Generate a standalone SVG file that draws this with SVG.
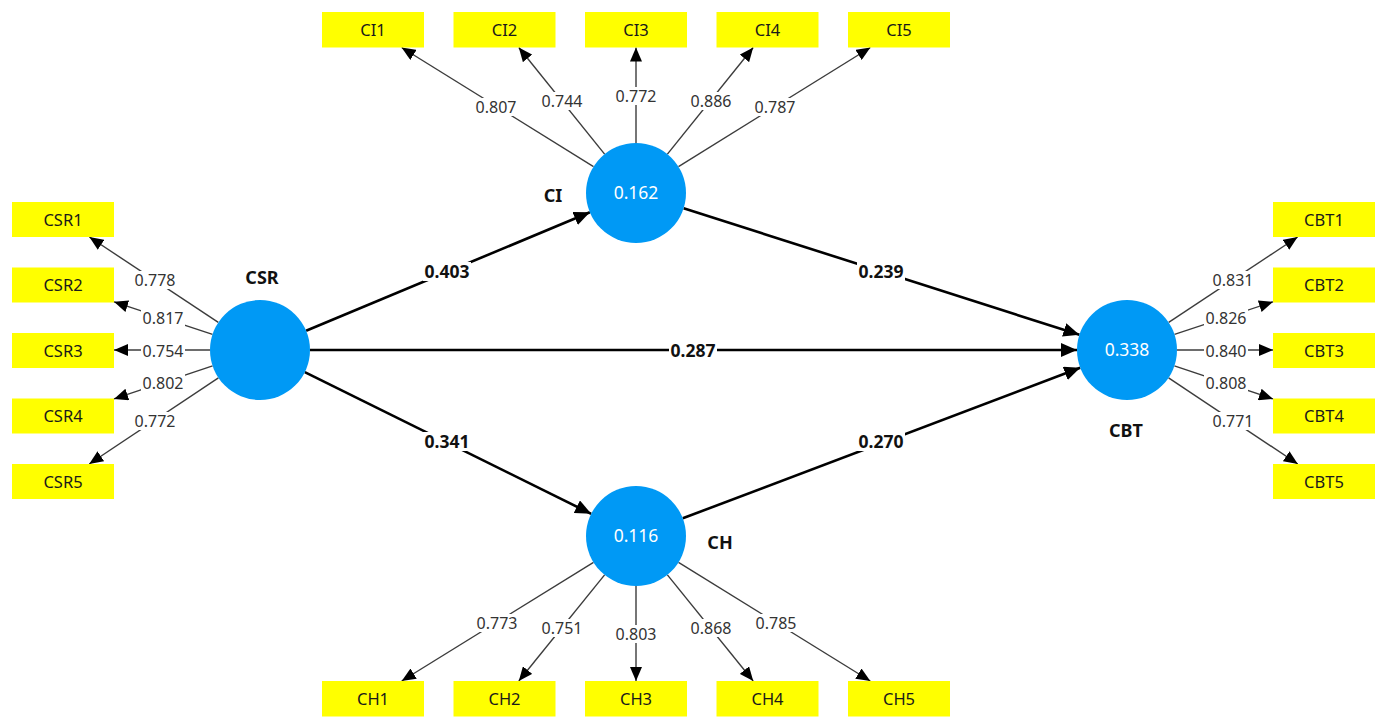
<svg xmlns="http://www.w3.org/2000/svg" width="1385" height="727" viewBox="0 0 1385 727">
<defs>
<style>
.box{fill:#ffff00}
.lv{fill:#0099f5}
.ind{font-family:"Noto Sans","Open Sans",sans-serif;font-size:16.5px;fill:#1a1a1a;text-anchor:middle}
.lt{font-family:"Noto Sans","Open Sans",sans-serif;font-size:16px;fill:#333333;text-anchor:middle}
.pt{font-family:"Noto Sans","Open Sans",sans-serif;font-size:17.5px;font-weight:bold;fill:#111;text-anchor:middle}
.nm{font-family:"Noto Sans","Open Sans",sans-serif;font-size:18px;font-weight:bold;fill:#111;text-anchor:middle}
.r2{font-family:"Noto Sans","Open Sans",sans-serif;font-size:17.5px;fill:#ffffff;text-anchor:middle}
.ld{stroke:#3c3c3c;stroke-width:1.4;fill:none;marker-end:url(#ah)}
.st{stroke:#000;stroke-width:2.6;fill:none;marker-end:url(#ahb)}
.bg{fill:#ffffff}
</style>
<marker id="ah" markerUnits="userSpaceOnUse" markerWidth="14" markerHeight="12" refX="14" refY="6" orient="auto">
<path d="M0,0 L14,6 L0,12 Z" fill="#000"/>
</marker>
<marker id="ahb" markerUnits="userSpaceOnUse" markerWidth="16" markerHeight="14" refX="16" refY="7" orient="auto">
<path d="M0,0 L16,7 L0,14 Z" fill="#000"/>
</marker>
</defs>
<rect width="1385" height="727" fill="#ffffff"/>

<g id="connectors">
<line class="ld" x1="218.3" y1="322.4" x2="89.4" y2="237"/>
<line class="ld" x1="212.5" y1="334.3" x2="114" y2="301.8"/>
<line class="ld" x1="210" y1="350" x2="114" y2="350"/>
<line class="ld" x1="212.6" y1="365.9" x2="114" y2="398.9"/>
<line class="ld" x1="218.4" y1="377.8" x2="89.2" y2="464"/>
<line class="ld" x1="1168.7" y1="322.4" x2="1297.6" y2="237"/>
<line class="ld" x1="1174.5" y1="334.3" x2="1273" y2="301.8"/>
<line class="ld" x1="1177" y1="350" x2="1273" y2="350"/>
<line class="ld" x1="1174.4" y1="365.9" x2="1273" y2="398.9"/>
<line class="ld" x1="1168.6" y1="377.8" x2="1297.8" y2="464"/>
<line class="ld" x1="593.5" y1="166.6" x2="401.6" y2="47.5"/>
<line class="ld" x1="604.6" y1="154.1" x2="518.8" y2="47.5"/>
<line class="ld" x1="636" y1="143" x2="636" y2="47.5"/>
<line class="ld" x1="667.4" y1="154.1" x2="753.2" y2="47.5"/>
<line class="ld" x1="678.5" y1="166.6" x2="870.4" y2="47.5"/>
<line class="ld" x1="593.5" y1="562.3" x2="401.7" y2="681"/>
<line class="ld" x1="604.6" y1="574.9" x2="518.8" y2="681"/>
<line class="ld" x1="636" y1="586" x2="636" y2="681"/>
<line class="ld" x1="667.4" y1="574.9" x2="753.2" y2="681"/>
<line class="ld" x1="678.5" y1="562.3" x2="870.3" y2="681"/>
<line class="st" x1="306.1" y1="330.7" x2="589.9" y2="212.3"/>
<line class="st" x1="683.6" y1="208.2" x2="1079.4" y2="334.8"/>
<line class="st" x1="310" y1="350" x2="1077" y2="350"/>
<line class="st" x1="304.8" y1="372.2" x2="591.2" y2="513.8"/>
<line class="st" x1="682.8" y1="518.3" x2="1080.2" y2="367.7"/>

<rect class="bg" x="133" y="271" width="44" height="18"/><text class="lt" x="155" y="286">0.778</text>
<rect class="bg" x="141" y="309" width="44" height="18"/><text class="lt" x="163" y="324">0.817</text>
<rect class="bg" x="141" y="341" width="44" height="18"/><text class="lt" x="163" y="356.5">0.754</text>
<rect class="bg" x="141" y="374" width="44" height="18"/><text class="lt" x="163" y="389">0.802</text>
<rect class="bg" x="133" y="412" width="44" height="18"/><text class="lt" x="155" y="427">0.772</text>

<rect class="bg" x="1211" y="271" width="44" height="18"/><text class="lt" x="1233" y="286">0.831</text>
<rect class="bg" x="1204" y="309" width="44" height="18"/><text class="lt" x="1226" y="324">0.826</text>
<rect class="bg" x="1204" y="341" width="44" height="18"/><text class="lt" x="1226" y="356.5">0.840</text>
<rect class="bg" x="1204" y="374" width="44" height="18"/><text class="lt" x="1226" y="389">0.808</text>
<rect class="bg" x="1211" y="412" width="44" height="18"/><text class="lt" x="1233" y="427">0.771</text>

<rect class="bg" x="474" y="98" width="44" height="18"/><text class="lt" x="496" y="113">0.807</text>
<rect class="bg" x="540" y="92" width="44" height="18"/><text class="lt" x="562" y="107">0.744</text>
<rect class="bg" x="614" y="87" width="44" height="18"/><text class="lt" x="636" y="102">0.772</text>
<rect class="bg" x="689" y="92" width="44" height="18"/><text class="lt" x="711" y="107">0.886</text>
<rect class="bg" x="753" y="98" width="44" height="18"/><text class="lt" x="775" y="113">0.787</text>

<rect class="bg" x="475" y="614" width="44" height="18"/><text class="lt" x="497" y="629">0.773</text>
<rect class="bg" x="540" y="619" width="44" height="18"/><text class="lt" x="562" y="634">0.751</text>
<rect class="bg" x="614" y="625" width="44" height="18"/><text class="lt" x="636" y="640">0.803</text>
<rect class="bg" x="689" y="619" width="44" height="18"/><text class="lt" x="711" y="634">0.868</text>
<rect class="bg" x="754" y="614" width="44" height="18"/><text class="lt" x="776" y="629">0.785</text>

<rect class="bg" x="423" y="262" width="48" height="19"/><text class="pt" x="447" y="278">0.403</text>
<rect class="bg" x="857" y="262" width="48" height="19"/><text class="pt" x="881" y="278">0.239</text>
<rect class="bg" x="669" y="341" width="48" height="19"/><text class="pt" x="693" y="357">0.287</text>
<rect class="bg" x="423" y="432" width="48" height="19"/><text class="pt" x="447" y="448">0.341</text>
<rect class="bg" x="857" y="432" width="48" height="19"/><text class="pt" x="881" y="448">0.270</text>
</g>

<g id="CSR">
<circle class="lv" cx="260" cy="350" r="50"/>
<text class="nm" x="262" y="283.5">CSR</text>
</g>
<g id="CI">
<circle class="lv" cx="636" cy="193" r="50"/>
<text class="r2" x="636" y="199">0.162</text>
<text class="nm" x="553" y="201.5">CI</text>
</g>
<g id="CH">
<circle class="lv" cx="636" cy="536" r="50"/>
<text class="r2" x="636" y="542">0.116</text>
<text class="nm" x="720" y="548.5">CH</text>
</g>
<g id="CBT">
<circle class="lv" cx="1127" cy="350" r="50"/>
<text class="r2" x="1127" y="356">0.338</text>
<text class="nm" x="1126" y="436.5">CBT</text>
</g>

<g id="CSR1"><rect class="box" x="12" y="202" width="102" height="35"/><text class="ind" x="63" y="225.5">CSR1</text></g>
<g id="CSR2"><rect class="box" x="12" y="267.5" width="102" height="35"/><text class="ind" x="63" y="291">CSR2</text></g>
<g id="CSR3"><rect class="box" x="12" y="333" width="102" height="35"/><text class="ind" x="63" y="356.5">CSR3</text></g>
<g id="CSR4"><rect class="box" x="12" y="398.5" width="102" height="35"/><text class="ind" x="63" y="422">CSR4</text></g>
<g id="CSR5"><rect class="box" x="12" y="464" width="102" height="35"/><text class="ind" x="63" y="487.5">CSR5</text></g>

<g id="CBT1"><rect class="box" x="1273" y="202" width="102" height="35"/><text class="ind" x="1324" y="225.5">CBT1</text></g>
<g id="CBT2"><rect class="box" x="1273" y="267.5" width="102" height="35"/><text class="ind" x="1324" y="291">CBT2</text></g>
<g id="CBT3"><rect class="box" x="1273" y="333" width="102" height="35"/><text class="ind" x="1324" y="356.5">CBT3</text></g>
<g id="CBT4"><rect class="box" x="1273" y="398.5" width="102" height="35"/><text class="ind" x="1324" y="422">CBT4</text></g>
<g id="CBT5"><rect class="box" x="1273" y="464" width="102" height="35"/><text class="ind" x="1324" y="487.5">CBT5</text></g>

<g id="CI1"><rect class="box" x="322" y="12" width="102" height="35.5"/><text class="ind" x="373" y="35.5">CI1</text></g>
<g id="CI2"><rect class="box" x="453.5" y="12" width="102" height="35.5"/><text class="ind" x="504.5" y="35.5">CI2</text></g>
<g id="CI3"><rect class="box" x="585" y="12" width="102" height="35.5"/><text class="ind" x="636" y="35.5">CI3</text></g>
<g id="CI4"><rect class="box" x="716.5" y="12" width="102" height="35.5"/><text class="ind" x="767.5" y="35.5">CI4</text></g>
<g id="CI5"><rect class="box" x="848" y="12" width="102" height="35.5"/><text class="ind" x="899" y="35.5">CI5</text></g>

<g id="CH1"><rect class="box" x="322" y="681" width="102" height="35.5"/><text class="ind" x="373" y="704.5">CH1</text></g>
<g id="CH2"><rect class="box" x="453.5" y="681" width="102" height="35.5"/><text class="ind" x="504.5" y="704.5">CH2</text></g>
<g id="CH3"><rect class="box" x="585" y="681" width="102" height="35.5"/><text class="ind" x="636" y="704.5">CH3</text></g>
<g id="CH4"><rect class="box" x="716.5" y="681" width="102" height="35.5"/><text class="ind" x="767.5" y="704.5">CH4</text></g>
<g id="CH5"><rect class="box" x="848" y="681" width="102" height="35.5"/><text class="ind" x="899" y="704.5">CH5</text></g>
</svg>
